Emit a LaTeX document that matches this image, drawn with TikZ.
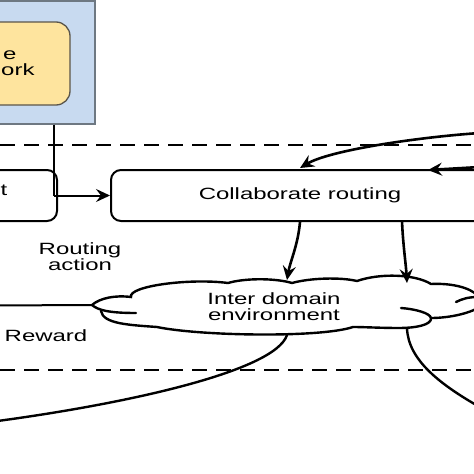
\documentclass[tikz,border=0pt]{standalone}
\usepackage{fontspec}
\setmainfont{Liberation Sans}[FakeStretch=1.47]
\usetikzlibrary{arrows.meta}

\definecolor{panelblue}{RGB}{200,218,240}
\definecolor{panelline}{RGB}{110,120,130}
\definecolor{engineyellow}{RGB}{254,228,158}
\definecolor{engineline}{RGB}{90,85,75}

\tikzset{
  panel/.style={draw=panelline, fill=panelblue, line width=1.4pt, inner sep=0pt},
  engine/.style={draw=engineline, fill=engineyellow, line width=1.3pt, rounded corners=14pt, inner sep=0pt},
  box/.style={draw, line width=2pt, rounded corners=10pt, inner sep=0pt},
  link/.style={line width=2.6pt, -{Stealth[length=14pt,width=13pt,inset=5pt]}},
  divider/.style={line width=2.2pt, dash pattern=on 15pt off 9pt},
  cloudline/.style={line width=2.4pt, line cap=round},
  txt/.style={align=center, inner sep=0pt}
}

\begin{document}
\begin{tikzpicture}[x=1pt,y=-1pt,font=\fontsize{16.3}{15.7}\selectfont]
	\useasboundingbox (0,0) rectangle (474,474);
	\clip (0,0) rectangle (474,474);
	
	% upper layer
	\node[panel, minimum width=115pt, minimum height=123pt] (panel) at (37.5,62.5) {};
	\node[engine, minimum width=90pt, minimum height=83pt] (engine) at (25,63.5) {};
	\node[txt, align=left, anchor=west] (enginetext) at (1,63.5) {\hspace*{2pt}e\\ork};
	
	\draw[divider] (0,145) -- (474,145);
	
	% middle layer
	\node[box, minimum width=77pt, minimum height=51pt] (agent) at (18.5,195.5) {};
	\node[txt] (agenttext) at (4,190) {t};
	\node[box, minimum width=378pt, minimum height=51pt] (collab) at (300,195.5) {Collaborate routing};
	
	\coordinate (drop) at (54,195.5);
	\draw[line width=2.8pt] (panel.south -| drop) -- (drop);
	\draw[link, line width=2pt] (drop) -- (collab.west);
	
	\coordinate (feedA) at (480,133);
	\coordinate (feedB) at (480,167);
	\coordinate (inA) at (300,168);
	\coordinate (inB) at (428,170);
	\draw[link] (feedA) .. controls (420,137) and (330,150) .. (inA);
	\draw[link] (feedB) -- (inB);
	
	\node[txt] (action) at (80,257) {Routing\\action};
	\node[txt] (reward) at (46,336) {Reward};
	
	% environment cloud
	\coordinate (envleft) at (92,305);
	\coordinate (envtopA) at (287,280);
	\coordinate (envtopB) at (407,283);
	\coordinate (envbotA) at (287,335);
	\coordinate (envbotB) at (407,328);
	\draw[cloudline] (envleft) .. controls (100,298) and (115,295) .. (131,297)
		.. controls (128,286) and (190,278) .. (228,283)
		.. controls (245,278) and (275,278) .. (292,283)
		.. controls (310,278) and (340,277) .. (357,281)
		.. controls (380,273) and (415,274) .. (431,284)
		.. controls (450,283) and (470,287) .. (478,296);
	\draw[cloudline] (456,302) .. controls (462,299) and (468,297) .. (478,297);
	\draw[cloudline] (478,308) .. controls (465,315) and (445,318) .. (431,318);
	\draw[cloudline] (401,308) .. controls (415,309) and (430,313) .. (431,318)
		.. controls (432,325) and (415,328) .. (400,328)
		.. controls (380,328) and (365,327) .. (353,327)
		.. controls (320,338) and (200,336) .. (157,327)
		.. controls (130,325) and (103,324) .. (101,311);
	\draw[cloudline] (envleft) .. controls (98,310) and (108,313) .. (136,313);
	\node[txt] (env) at (274,306.5) {Inter domain\\environment};
	
	\coordinate (outB) at (402,221);
	\draw[link] (collab.south) .. controls (298,245) and (290,262) .. (envtopA);
	\draw[link] (outB) .. controls (403,245) and (406,265) .. (envtopB);
	
	\coordinate (rewardin) at (-10,305.5);
	\draw[line width=2pt] (rewardin) -- (envleft);
	
	\draw[divider] (0,370) -- (474,370);
	
	% lower layer
	\coordinate (lowA) at (-10,422);
	\coordinate (lowB) at (485,410);
	\draw[cloudline] (envbotA) .. controls (275,372) and (120,405) .. (lowA);
	\draw[cloudline] (envbotB) .. controls (408,360) and (440,385) .. (lowB);
\end{tikzpicture}
\end{document}
